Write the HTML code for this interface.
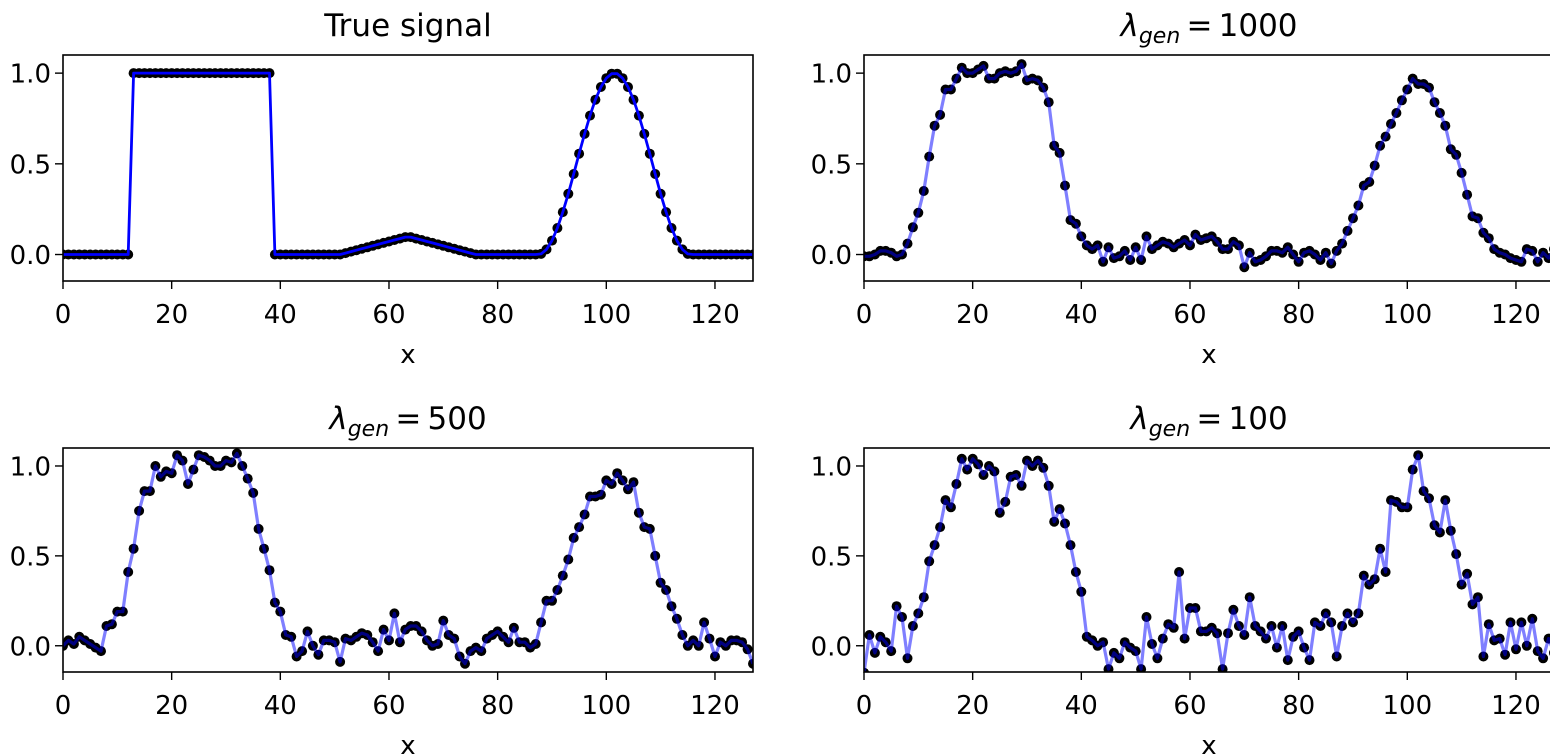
<!DOCTYPE html>
<html><head><meta charset="utf-8">
<style>
html,body{margin:0;padding:0;background:#fff;}
svg{display:block;font-family:"DejaVu Sans","Liberation Sans",sans-serif;}
</style></head>
<body>
<svg id="s" width="1550" height="754" viewBox="0 0 1550 754" xmlns="http://www.w3.org/2000/svg"></svg>
<script>
var NS="http://www.w3.org/2000/svg";
var svg=document.getElementById('s');
function el(t,a,txt){var e=document.createElementNS(NS,t);for(var k in a)e.setAttribute(k,a[k]);if(txt!==undefined)e.textContent=txt;svg.appendChild(e);return e;}
var truth=[];
for(var i=0;i<128;i++){var v=0;
 if(i>=13&&i<=38)v=1;
 else if(i>50&&i<77)v=Math.max(0,0.1*(1-Math.abs(i-63.5)/12.5));
 else if(Math.abs(i-101.5)<14)v=0.5*(1+Math.cos(Math.PI*(i-101.5)/14));
 truth.push(v);}
var d1000=[-0.01,-0.01,0,0.02,0.02,0.01,-0.01,0,0.06,0.15,0.23,0.35,0.54,0.71,0.77,0.91,0.91,0.97,1.03,1.0,1.0,1.02,1.04,0.97,0.97,1.0,1.01,1.0,1.01,1.05,0.96,0.97,0.96,0.92,0.84,0.6,0.56,0.38,0.19,0.17,0.1,0.05,0.03,0.05,-0.04,0.04,-0.02,-0.01,0.02,-0.03,0.04,-0.03,0.1,0.03,0.05,0.07,0.06,0.04,0.06,0.08,0.05,0.11,0.08,0.09,0.1,0.07,0.03,0.03,0.07,0.05,-0.07,0.01,-0.04,-0.03,-0.01,0.02,0.02,0.01,0.04,0,-0.04,0.01,0.02,0,-0.03,0.01,-0.05,0.02,0.06,0.13,0.2,0.27,0.38,0.4,0.49,0.6,0.65,0.72,0.78,0.85,0.91,0.97,0.94,0.94,0.92,0.84,0.78,0.71,0.58,0.55,0.45,0.33,0.21,0.2,0.12,0.09,0.03,0.01,0,-0.02,-0.03,-0.04,0.03,0.02,-0.04,0.01,-0.02,0.03];
var d500=[0,0.03,0.01,0.05,0.03,0.01,-0.01,-0.03,0.11,0.12,0.19,0.19,0.41,0.54,0.75,0.86,0.86,1.0,0.94,0.97,0.96,1.06,1.03,0.9,0.98,1.06,1.05,1.03,1.0,1.0,1.03,1.02,1.07,1.0,0.93,0.85,0.65,0.54,0.42,0.24,0.19,0.06,0.05,-0.06,-0.03,0.08,0,-0.05,0.03,0.03,0.02,-0.09,0.04,0.03,0.05,0.07,0.06,0.02,-0.03,0.09,0.03,0.18,0.02,0.09,0.11,0.11,0.08,0.03,0,0.01,0.14,0.06,0.04,-0.06,-0.1,-0.03,-0.01,-0.03,0.04,0.06,0.08,0.05,0.02,0.1,0.02,0.02,-0.01,0.01,0.13,0.25,0.25,0.31,0.39,0.48,0.6,0.66,0.73,0.83,0.83,0.84,0.92,0.9,0.96,0.92,0.87,0.91,0.74,0.66,0.65,0.5,0.35,0.31,0.22,0.15,0.06,0,0.03,0,0.13,0.04,-0.06,0.02,0,0.03,0.03,0.02,-0.02,-0.1];
var d100=[-0.15,0.06,-0.04,0.05,0.02,-0.03,0.22,0.16,-0.07,0.11,0.18,0.27,0.47,0.56,0.66,0.81,0.77,0.9,1.04,0.98,1.04,1.01,0.95,1.0,0.97,0.74,0.8,0.94,0.95,0.89,1.03,1.0,1.03,0.99,0.89,0.69,0.76,0.68,0.56,0.41,0.3,0.05,0.03,0,0.02,-0.13,-0.04,-0.07,0.02,-0.01,-0.03,-0.13,0.16,0.01,-0.07,0.04,0.12,0.1,0.41,0.04,0.21,0.21,0.08,0.08,0.1,0.07,-0.13,0.07,0.2,0.11,0.06,0.27,0.11,0.08,0.04,0.11,-0.01,0.11,-0.08,0.05,0.08,-0.01,-0.08,0.13,0.11,0.18,0.13,-0.06,0.11,0.18,0.13,0.18,0.39,0.34,0.37,0.54,0.41,0.81,0.8,0.77,0.77,0.98,1.06,0.86,0.82,0.67,0.63,0.81,0.64,0.51,0.34,0.4,0.23,0.27,-0.06,0.12,0.03,0.04,-0.05,0.13,-0.02,0.13,0,0.15,-0.03,-0.07,0.04,-0.04];
var id=0;
function panel(x0,y0,y1,data,title,isTrue){
 var x1=x0+690, ppx=690/127, ymin=-0.146, ymax=1.1, ppy=(y1-y0)/(ymax-ymin);
 function X(v){return x0+v*ppx;} function Y(v){return y1-(v-ymin)*ppy;}
 id++;
 var cp=el('clipPath',{id:'c'+id});
 var r=document.createElementNS(NS,'rect');r.setAttribute('x',x0);r.setAttribute('y',y0);r.setAttribute('width',690);r.setAttribute('height',y1-y0);cp.appendChild(r);
 var g=el('g',{'clip-path':'url(#c'+id+')'});
 var pts=data.map(function(v,i){return X(i).toFixed(1)+','+Y(v).toFixed(1);}).join(' ');
 var add=function(t,a){var e=document.createElementNS(NS,t);for(var k in a)e.setAttribute(k,a[k]);g.appendChild(e);};
 data.forEach(function(v,i){add('circle',{cx:X(i).toFixed(1),cy:Y(v).toFixed(1),r:5,fill:'#000'});});
 if(isTrue) add('polyline',{points:pts,fill:'none',stroke:'#0000ff','stroke-width':2.8,'stroke-linejoin':'round'});
 else add('polyline',{points:pts,fill:'none',stroke:'rgba(0,0,255,0.5)','stroke-width':3.2,'stroke-linejoin':'round'});
 el('rect',{x:x0,y:y0,width:690,height:y1-y0,fill:'none',stroke:'#000','stroke-width':1.6});
 [0,20,40,60,80,100,120].forEach(function(t){var x=X(t);
  el('line',{x1:x,y1:y1,x2:x,y2:y1+8,stroke:'#000','stroke-width':1.4});
  el('text',{x:x,y:y1+42,'font-size':26,'text-anchor':'middle'},String(t));});
 [[0,'0.0'],[0.5,'0.5'],[1,'1.0']].forEach(function(t){var y=Y(t[0]);
  el('line',{x1:x0-8,y1:y,x2:x0,y2:y,stroke:'#000','stroke-width':1.4});
  el('text',{x:x0-12,y:y+9.5,'font-size':26,'text-anchor':'end'},t[1]);});
 el('text',{x:(x0+x1)/2,y:y1+82,'font-size':26,'text-anchor':'middle'},'x');
 var tt=el('text',{x:(x0+x1)/2,y:y0-19,'font-size':31,'text-anchor':'middle'});
 if(isTrue){tt.textContent=title;}
 else{
  var a=document.createElementNS(NS,'tspan');a.setAttribute('font-style','italic');a.textContent='\u03bb';tt.appendChild(a);
  var b=document.createElementNS(NS,'tspan');b.setAttribute('font-style','italic');b.setAttribute('font-size','22');b.setAttribute('dy','7');b.textContent='gen';tt.appendChild(b);
  var c=document.createElementNS(NS,'tspan');c.setAttribute('dy','-7');c.textContent='\u2009=\u2009'+title;tt.appendChild(c);
 }
}
panel(63,55,281,truth,'True signal',true);
panel(864,55,281,d1000,'1000',false);
panel(63,448,672,d500,'500',false);
panel(864,448,672,d100,'100',false);
</script>
</body></html>
